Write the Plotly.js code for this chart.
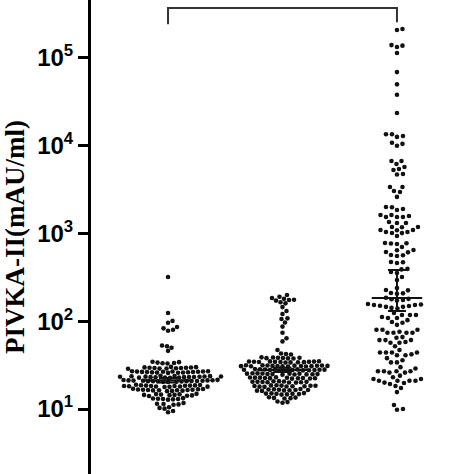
<!DOCTYPE html>
<html>
<head>
<meta charset="utf-8">
<script src="https://cdn.plot.ly/plotly-3.0.1.min.js"></script>
<style>
    html, body { margin: 0; padding: 0; background: #ffffff; }
    #chart { width: 474px; height: 474px; }
</style>
</head>
<body>
<div id="chart"></div>
<script>
// PIVKA-II values per group (mAU/ml)
const group1 = [
    319, 124, 101, 96, 86, 83, 80, 78, 53, 52, 50, 46,
    34.2, 33.8, 33.5, 33.3, 33.0, 34.6,
    30.0, 29.8, 29.6, 29.5, 29.4, 29.3, 29.2, 29.0, 28.9, 29.7, 30.2, 28.8,
    27.0, 26.9, 26.8, 26.7, 26.6, 26.5, 26.4, 26.4, 26.3, 26.2, 26.1, 26.0, 25.9, 26.6, 26.8, 25.8,
    23.8, 23.7, 23.6, 23.5, 23.4, 23.3, 23.2, 23.2, 23.1, 23.0, 22.9, 22.8, 22.7, 23.5, 23.3, 23.1, 22.9, 23.9,
    21.4, 21.3, 21.2, 21.1, 21.0, 20.9, 20.9, 20.8, 20.7, 20.6, 20.5, 20.4, 21.2, 21.0, 20.8, 20.6, 21.5, 20.3,
    18.8, 18.7, 18.6, 18.5, 18.4, 18.3, 18.3, 18.2, 18.1, 18.0, 17.9, 18.5, 18.3, 18.1, 18.9, 17.8,
    16.9, 16.8, 16.7, 16.6, 16.5, 16.5, 16.4, 16.3, 16.2, 16.1, 16.6, 16.4, 17.0, 16.0,
    14.9, 14.8, 14.6, 14.5, 14.5, 14.4, 14.3, 14.2, 14.7, 14.1,
    13.3, 13.2, 13.1, 13.0, 12.9, 12.8, 13.0,
    11.7, 11.5, 11.4, 11.3, 11.2,
    10.5, 10.3, 10.1,
    9.5, 9.2
];

const group2 = [
    199, 190, 184, 180, 176, 175, 172, 165, 160, 145,
    131, 121, 108, 106, 97, 87, 74, 64, 59, 47,
    43.0, 42.4, 41.8,
    38.8, 38.6, 38.4, 38.2, 38.0, 37.8, 37.6, 38.3,
    35.0, 34.9, 34.8, 34.7, 34.6, 34.5, 34.4, 34.3, 34.2, 34.1, 34.0, 33.9, 34.5,
    31.5, 31.4, 31.3, 31.2, 31.1, 31.0, 30.9, 30.9, 30.8, 30.7, 30.6, 30.5, 30.4, 31.0, 30.8, 31.6,
    28.4, 28.3, 28.2, 28.1, 28.0, 27.9, 27.9, 27.8, 27.7, 27.6, 27.5, 28.0, 27.8, 28.5, 27.4,
    25.6, 25.5, 25.4, 25.3, 25.2, 25.1, 25.0, 24.9, 24.8, 24.7, 25.3, 25.0, 24.6,
    23.0, 22.9, 22.8, 22.7, 22.6, 22.5, 22.4, 22.3, 22.2, 22.6, 22.8, 22.4,
    20.7, 20.6, 20.5, 20.4, 20.3, 20.2, 20.1, 20.0, 20.4, 20.2, 20.8,
    18.7, 18.6, 18.5, 18.4, 18.3, 18.2, 18.1, 18.0, 18.4, 18.2, 17.9,
    16.9, 16.8, 16.7, 16.6, 16.5, 16.4, 16.3, 16.2, 16.5, 16.1,
    15.2, 15.1, 15.0, 14.9, 14.8, 14.7, 14.9, 14.6,
    13.6, 13.5, 13.4, 13.3, 13.2,
    12.2, 12.0, 11.8
];

const group3 = [
    214000, 208000, 140000, 138000, 133000, 114000, 69000, 50000, 38000, 23600,
    13500, 13500, 12900, 12600, 10800, 10500, 10000,
    6700, 6700, 6200, 5730, 5430, 5280, 4760, 4700,
    3390, 3390, 3050, 2970, 2610,
    2000, 1990, 1900, 1850,
    1625, 1625, 1580, 1540, 1540, 1540,
    1352, 1318, 1318, 1186, 1186, 1180, 1096, 1096, 1090, 1040, 1040, 1014, 1010,
    935,
    780, 775, 770, 759, 702, 649, 645, 615, 610,
    569, 565, 555, 473, 470, 461,
    395, 390, 364, 355, 319, 295,
    239, 227, 225, 210, 208, 206,
    185, 180, 178, 175, 172,
    157, 155, 153, 153, 150, 149, 146, 146, 142, 140,
    124, 118, 118, 118, 112, 109, 109, 103, 98, 96, 91,
    80, 80, 80, 76, 74, 74, 74, 74, 66,
    65, 61, 61, 61, 58, 57, 57, 52, 47, 44,
    44, 44, 44, 42, 41, 41, 38, 36, 34, 34,
    30, 29, 27, 27, 27, 27, 26, 26, 24, 23,
    22, 22, 21, 21, 21, 21, 20, 19.8, 19.3, 18.3, 17.4, 15.6,
    11.1, 10, 9.8
];

// median line and its error bar per group
const medians = [21.2, 27.9, 184];
const errLow = [20.0, 26.4, 131];
const errHigh = [22.6, 29.6, 384];

const tickVals = [10, 100, 1000, 10000, 100000];
const tickText = ['10<sup>1</sup>', '10<sup>2</sup>', '10<sup>3</sup>', '10<sup>4</sup>', '10<sup>5</sup>'];

// plot geometry, needed to lay the swarm out in pixels
const W = 474, H = 474, L = 91;
const xRange = [0.327, 3.673];
const yRange = [0.26, 5.66];
const pxPerX = (W - L) / (xRange[1] - xRange[0]);
const pxPerDecade = H / (yRange[1] - yRange[0]);

// simple beeswarm: each point goes to the free slot nearest the centre
function swarm(values, center, gap) {
    const placed = [];
    const xs = new Array(values.length);
    const order = values.map((v, i) => i).sort((a, b) => values[a] - values[b]);
    order.forEach(i => {
        const py = Math.log10(values[i]) * pxPerDecade;
        let off = 0;
        for (let k = 0; k < 600; k++) {
            off = (k % 2 ? 1 : -1) * Math.ceil(k / 2) * 0.5;
            const hit = placed.some(p => {
                const dy = p.y - py;
                if (Math.abs(dy) >= gap) return false;
                const dx = p.x - off;
                return dx * dx + dy * dy < gap * gap;
            });
            if (!hit) break;
        }
        placed.push({ x: off, y: py });
        xs[i] = center + off / pxPerX;
    });
    return xs;
}

const groups = [group1, group2, group3];
const gaps = [4.7, 4.7, 5.6];

const data = groups.map((vals, g) => ({
    x: swarm(vals, g + 1, gaps[g]),
    y: vals,
    type: 'scatter',
    mode: 'markers',
    marker: { size: 4.6, color: '#111111' },
    hoverinfo: 'skip'
}));

// median with error bars
data.push({
    x: [1, 2, 3],
    y: medians,
    type: 'scatter',
    mode: 'markers',
    marker: { symbol: 'line-ew', size: 36, line: { width: 2.2, color: '#111111' } },
    error_y: {
        type: 'data',
        symmetric: false,
        array: medians.map((m, i) => errHigh[i] - m),
        arrayminus: medians.map((m, i) => m - errLow[i]),
        width: 9,
        thickness: 2,
        color: '#111111'
    },
    hoverinfo: 'skip'
});

const layout = {
    width: W,
    height: H,
    margin: { l: L, r: 0, t: 0, b: 0 },
    paper_bgcolor: '#ffffff',
    plot_bgcolor: '#ffffff',
    showlegend: false,
    xaxis: {
        range: xRange,
        visible: false
    },
    yaxis: {
        type: 'log',
        range: yRange,
        showgrid: false,
        zeroline: false,
        showline: true,
        linewidth: 3,
        linecolor: '#000000',
        ticks: 'outside',
        ticklen: 10,
        tickwidth: 3,
        tickcolor: '#000000',
        tickvals: tickVals,
        ticktext: tickText,
        tickfont: { family: 'Arial, "Liberation Sans", sans-serif', size: 24, weight: 'bold', color: '#000000' },
        title: {
            text: 'PIVKA-II(mAU/ml)',
            font: { family: '"Times New Roman", "Liberation Serif", serif', size: 27, weight: 'bold', color: '#000000' },
            standoff: 8
        }
    },
    // significance bracket between group 1 and group 3
    shapes: [{
        type: 'path',
        xref: 'x',
        yref: 'paper',
        path: 'M 1 0.949 L 1 0.983 L 3 0.983 L 3 0.953',
        line: { color: '#333333', width: 2 }
    }]
};

Plotly.newPlot('chart', data, layout, { displayModeBar: false, staticPlot: true });
</script>
</body>
</html>
